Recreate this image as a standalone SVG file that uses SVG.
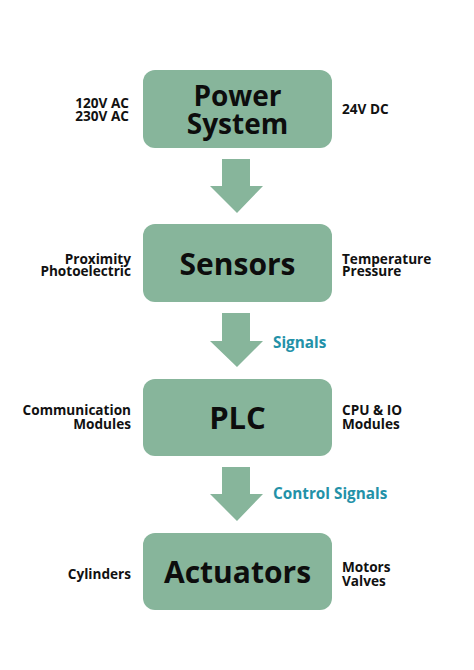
<svg xmlns="http://www.w3.org/2000/svg" width="474" height="670" viewBox="0 0 474 670">
<style>
.box{fill:#87b59b}
.arrow{fill:#87b59b}
.title{font-family:"Open Sans","Liberation Sans",sans-serif;font-weight:700;fill:#0d0d0d;text-anchor:middle}
.lbl{font-family:"Open Sans","Liberation Sans",sans-serif;font-weight:700;font-size:13.6px;fill:#111}
.l{text-anchor:end}
.sig{font-family:"Open Sans","Liberation Sans",sans-serif;font-weight:700;font-size:15.3px;fill:#2391a8}
</style>
<rect width="474" height="670" fill="#ffffff"/>
<g id="connectors">
<polygon class="arrow" points="222,159 250,159 250,186 263,186 237,213 210,186 222,186"/>
<polygon class="arrow" points="222,313 250,313 250,341 263,341 237,367 210,341 222,341"/>
<text class="sig" x="273" y="348">Signals</text>
<polygon class="arrow" points="222,467 250,467 250,494 263,494 237,521 210,494 222,494"/>
<text class="sig" x="273" y="499">Control Signals</text>
</g>
<g id="power">
<rect class="box" x="143" y="70" width="189" height="78" rx="12"/>
<text class="title" x="237.5" y="106" font-size="28">Power</text>
<text class="title" x="237.5" y="134" font-size="28">System</text>
<text class="lbl l" x="129" y="108" font-size="14">120V AC</text>
<text class="lbl l" x="129" y="121" font-size="14">230V AC</text>
<text class="lbl" x="342" y="114" font-size="14">24V DC</text>
</g>
<g id="sensors">
<rect class="box" x="143" y="224" width="189" height="78" rx="12"/>
<text class="title" x="237.5" y="275" font-size="30">Sensors</text>
<text class="lbl l" x="131" y="263.5">Proximity</text>
<text class="lbl l" x="131" y="275.5">Photoelectric</text>
<text class="lbl" x="342" y="263.5">Temperature</text>
<text class="lbl" x="342" y="275.5">Pressure</text>
</g>
<g id="plc">
<rect class="box" x="143" y="379" width="189" height="77" rx="12"/>
<text class="title" x="237.5" y="429" font-size="31">PLC</text>
<text class="lbl l" x="131" y="415">Communication</text>
<text class="lbl l" x="131" y="429">Modules</text>
<text class="lbl" x="342" y="415">CPU &amp; IO</text>
<text class="lbl" x="342" y="429">Modules</text>
</g>
<g id="actuators">
<rect class="box" x="143" y="533" width="189" height="77" rx="12"/>
<text class="title" x="237.5" y="583" font-size="30">Actuators</text>
<text class="lbl l" x="131" y="579">Cylinders</text>
<text class="lbl" x="342" y="572">Motors</text>
<text class="lbl" x="342" y="586">Valves</text>
</g>
</svg>
